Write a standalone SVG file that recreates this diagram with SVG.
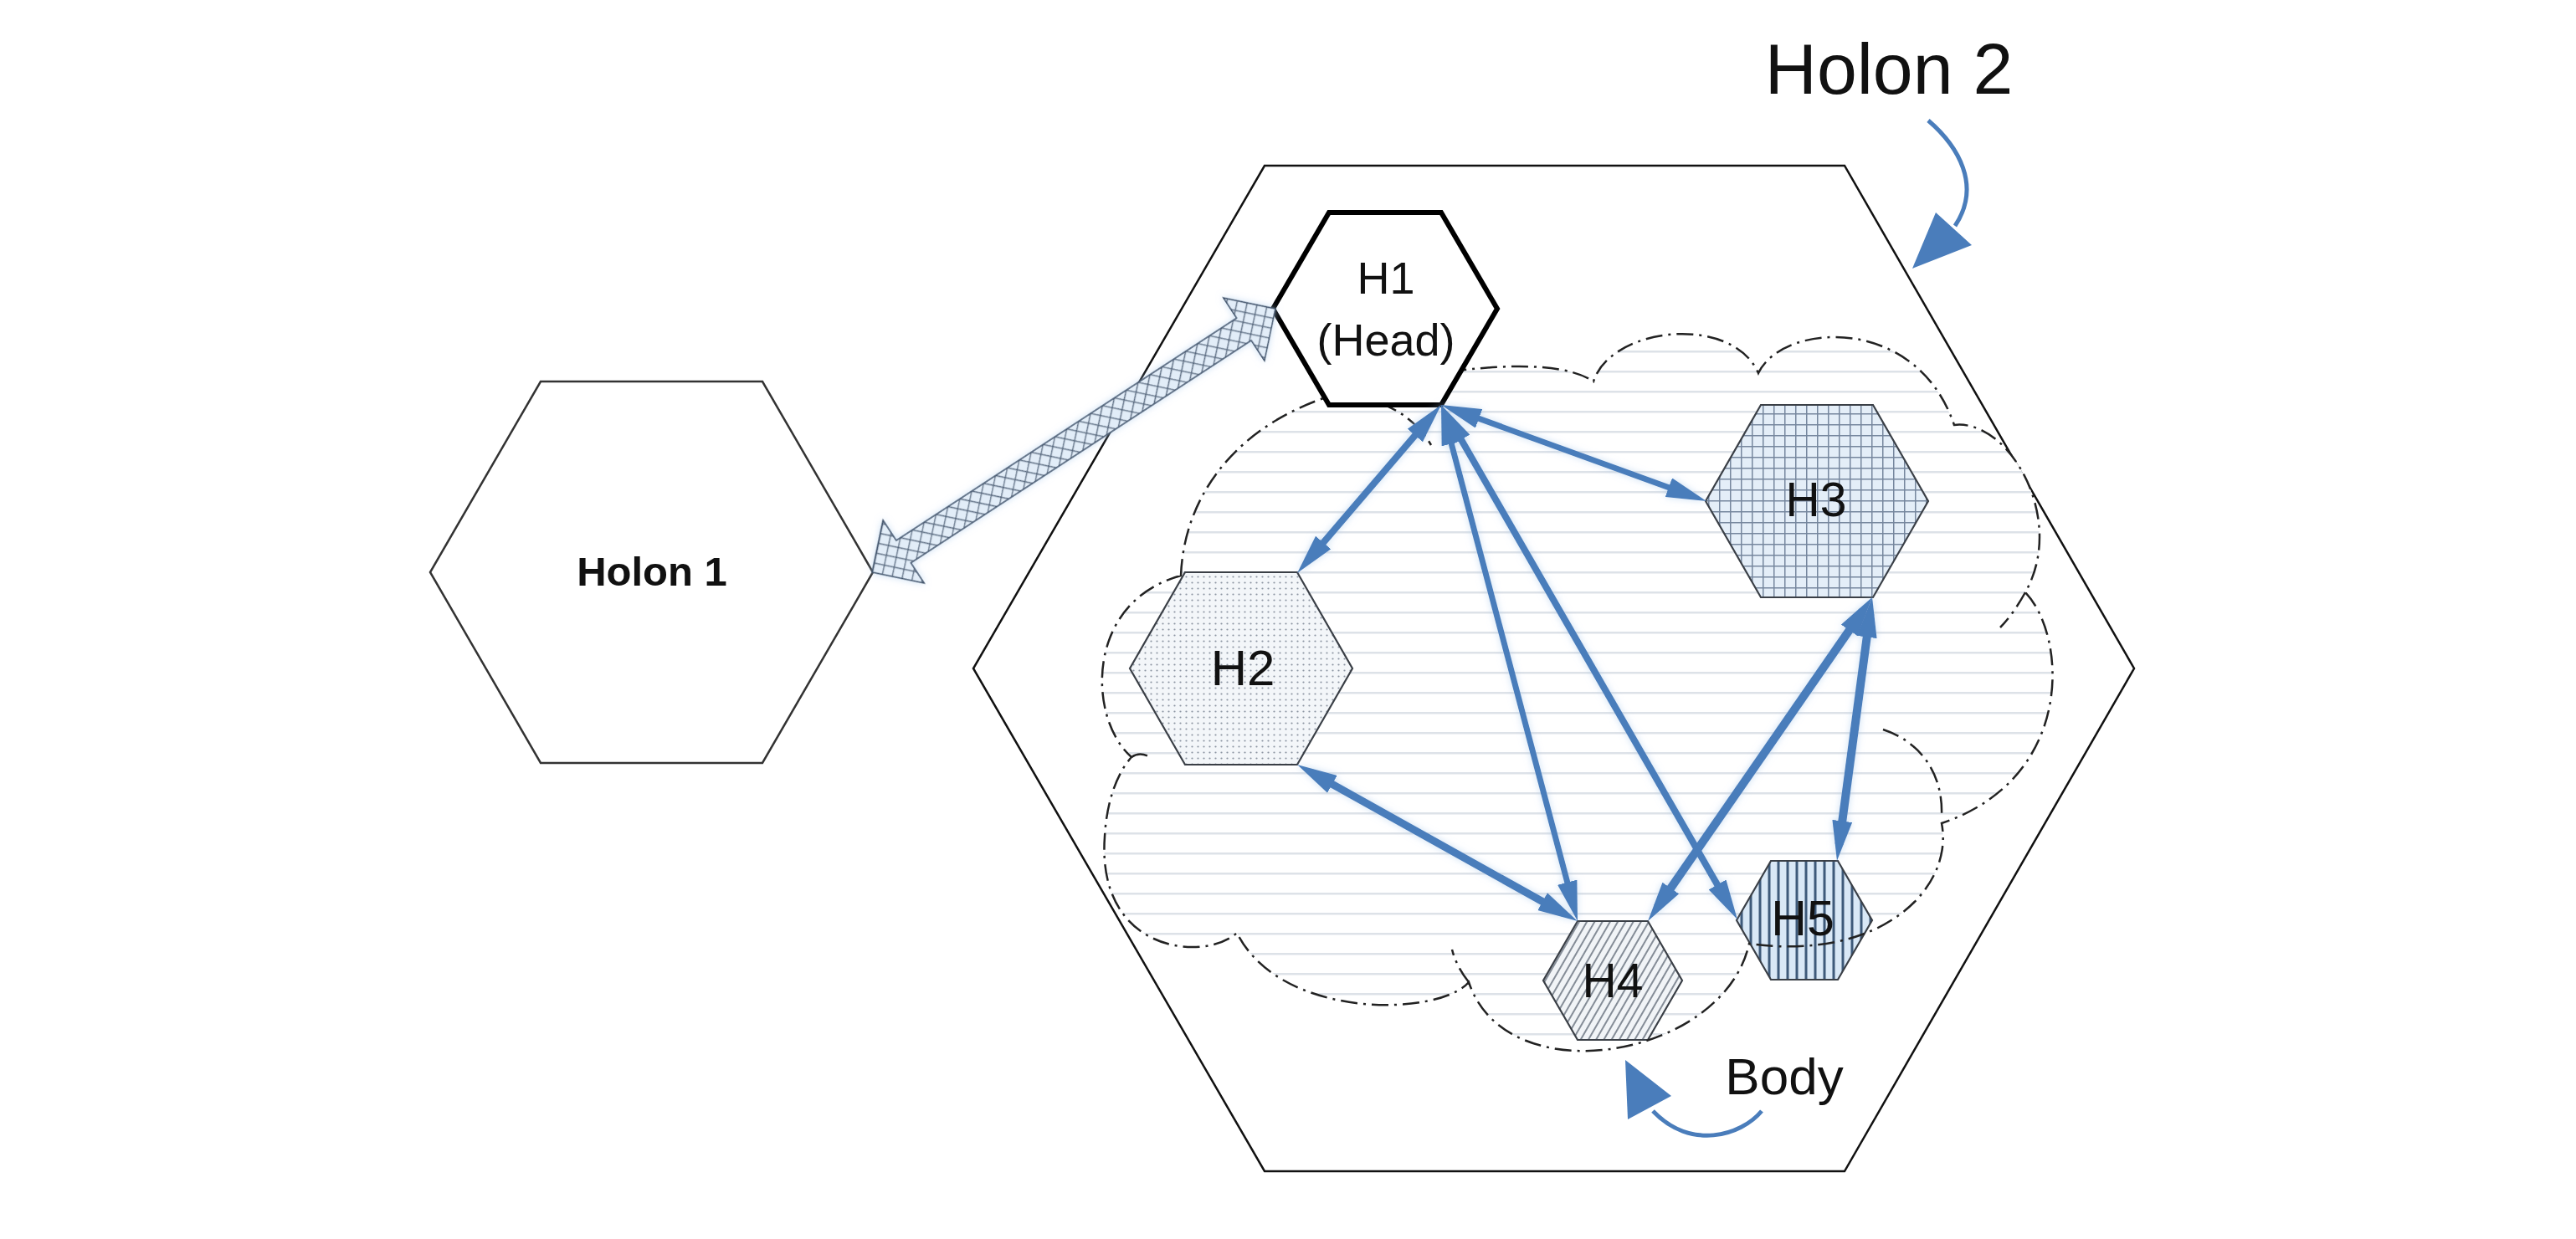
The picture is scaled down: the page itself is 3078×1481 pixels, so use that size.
<svg xmlns="http://www.w3.org/2000/svg" width="3078" height="1481" viewBox="0 0 3078 1481">
<style>
.txt{font-family:"Liberation Sans",Arial,sans-serif;fill:#111;text-anchor:middle}
.hex{stroke:#3a3f46;stroke-width:2.2;stroke-linejoin:miter}
.conn{fill:none;stroke:#4a7dbb;marker-start:url(#ah);marker-end:url(#ah)}
.cloud{fill:none;stroke:#222;stroke-width:2.5;stroke-dasharray:20 7 3 7}
.curl{fill:none;stroke:#4a7dbb;stroke-width:5}
</style>
<defs>
<pattern id="hlines" patternUnits="userSpaceOnUse" width="40" height="24"><rect width="40" height="24" fill="#ffffff"/><rect y="11" width="40" height="2.5" fill="#dde2e8"/></pattern>
<pattern id="dots" patternUnits="userSpaceOnUse" width="7" height="7"><rect width="7" height="7" fill="#f3f6f9"/><circle cx="3.5" cy="3.5" r="1.1" fill="#8d96a3"/></pattern>
<pattern id="grid" patternUnits="userSpaceOnUse" width="13" height="13"><rect width="13" height="13" fill="#e4eef8"/><path d="M0 0.75H13M0.75 0V13" stroke="#76879e" stroke-width="1.5"/></pattern>
<pattern id="diag" patternUnits="userSpaceOnUse" width="8" height="8" patternTransform="rotate(30)"><rect width="8" height="8" fill="#f1f4f7"/><path d="M1 0V8" stroke="#4a5563" stroke-width="1.3"/></pattern>
<pattern id="vstripe" patternUnits="userSpaceOnUse" width="11" height="11"><rect width="11" height="11" fill="#d9e8f6"/><path d="M2 0V11" stroke="#3e5a7a" stroke-width="3"/></pattern>
<pattern id="xhatch" patternUnits="userSpaceOnUse" width="12" height="12" patternTransform="rotate(45)"><rect width="12" height="12" fill="#e2edf8"/><path d="M0 0.6H12M0.6 0V12" stroke="#4d5e74" stroke-width="1.2"/></pattern>
<marker id="ah" markerUnits="userSpaceOnUse" viewBox="0 0 48 24" markerWidth="48" markerHeight="24" refX="28" refY="12" orient="auto-start-reverse"><path d="M0,0 L48,12 L0,24 z" fill="#4a7dbb"/></marker>
<filter id="glow" x="-10%" y="-10%" width="120%" height="120%"><feGaussianBlur in="SourceAlpha" stdDeviation="4" result="b"/><feFlood flood-color="#a9caec" flood-opacity="0.6"/><feComposite in2="b" operator="in"/><feMerge><feMergeNode/><feMergeNode in="SourceGraphic"/></feMerge></filter>
</defs>
<rect width="3078" height="1481" fill="#ffffff"/>

<g id="holon2">
<polygon points="1511,198 2204,198 2550,799 2204,1400 1511,1400 1163,799" fill="#ffffff" stroke="#111" stroke-width="2.5"/>
<text class="txt" x="2257" y="112" font-size="86">Holon 2</text>
<path class="curl" d="M2304,144 C2340,175 2368,222 2336,270"/>
<polygon points="2285,321 2313,254 2356,293" fill="#4a7dbb"/>
</g>

<g id="body">
<path d="M1411,688 C1415,590 1480,505 1600,470 C1700,445 1850,420 1904,456 C1925,390 2070,375 2101,446 C2130,385 2290,375 2335,508 C2400,500 2470,620 2420,708 C2470,760 2480,930 2320,984 C2335,1060 2250,1150 2090,1128 C2060,1265 1800,1310 1755,1174 C1720,1215 1530,1220 1478,1115 C1440,1150 1310,1140 1320,1000 C1322,960 1334,925 1352,905 C1300,860 1295,720 1411,688 Z" fill="url(#hlines)"/>
</g>

<g id="holon1">
<polygon points="646,456 911,456 1043,684 911,912 646,912 514,684" fill="#ffffff" stroke="#333" stroke-width="2.5"/>
<text class="txt" x="779" y="700" font-size="49" font-weight="bold">Holon 1</text>
</g>

<g id="h2">
<polygon class="hex" points="1416,684 1550,684 1616,799 1550,914 1416,914 1350,799" fill="url(#dots)"/>
<text class="txt" x="1485" y="819" font-size="60">H2</text>
</g>
<g id="h3">
<polygon class="hex" points="2104,484 2238,484 2304,599 2238,714 2104,714 2038,599" fill="url(#grid)"/>
<text class="txt" x="2170" y="617" font-size="57">H3</text>
</g>
<g id="h4">
<polygon class="hex" points="1885,1101 1969,1101 2010,1172 1969,1243 1885,1243 1844,1172" fill="url(#diag)"/>
<text class="txt" x="1927" y="1192" font-size="57">H4</text>
</g>
<g id="h5">
<polygon class="hex" points="2116,1029 2196,1029 2237,1100 2196,1171 2116,1171 2075,1100" fill="url(#vstripe)"/>
<text class="txt" x="2154" y="1118" font-size="59">H5</text>
</g>

<g id="body-outline">
<path class="cloud" d="M1411,688 C1415,590 1480,505 1600,470 C1700,445 1850,420 1904,456 C1925,390 2070,375 2101,446 C2130,385 2290,375 2335,508 C2400,500 2470,620 2420,708 C2470,760 2480,930 2320,984 C2335,1060 2250,1150 2090,1128 C2060,1265 1800,1310 1755,1174 C1720,1215 1530,1220 1478,1115 C1440,1150 1310,1140 1320,1000 C1322,960 1334,925 1352,905 C1300,860 1295,720 1411,688 Z"/>
<path class="cloud" d="M2420,708 Q2405,735 2390,750 M2250,872 C2290,885 2322,920 2320,975 M1755,1174 Q1740,1155 1735,1135 M1352,905 Q1362,898 1374,905 M1650,482 Q1690,498 1710,532"/>
<text class="txt" x="2132" y="1308" font-size="62">Body</text>
<path class="curl" d="M2105,1328 C2080,1358 2020,1375 1975,1328"/>
<polygon points="1942,1267 1945,1338 1997,1310" fill="#4a7dbb"/>
</g>

<g id="h1">
<polygon points="1588,254 1722,254 1789,369 1722,484 1588,484 1521,369" fill="#ffffff" stroke="#000" stroke-width="6" stroke-linejoin="miter"/>
<text class="txt" x="1656" y="351" font-size="54">H1</text>
<text class="txt" x="1656" y="425" font-size="54">(Head)</text>
</g>

<g id="connectors" filter="url(#glow)">
<line class="conn" x1="1709" y1="499.2" x2="1563" y2="669.8" stroke-width="8"/>
<line class="conn" x1="1740.8" y1="490.8" x2="2020.2" y2="592.2" stroke-width="7"/>
<line class="conn" x1="1727.1" y1="503.3" x2="1879.9" y2="1081.7" stroke-width="7"/>
<line class="conn" x1="1732" y1="501.3" x2="2066" y2="1081.7" stroke-width="8"/>
<line class="conn" x1="1567.5" y1="923.7" x2="1867.5" y2="1091.3" stroke-width="9"/>
<line class="conn" x1="1980.4" y1="1084.6" x2="2225.6" y2="730.4" stroke-width="10"/>
<line class="conn" x1="2234.4" y1="733.8" x2="2197.6" y2="1009.2" stroke-width="10"/>
<polygon transform="translate(1042,684) rotate(-33.17)" points="0,0 45,-45 45,-16 530.8,-16 530.8,-45 575.8,0 530.8,45 530.8,16 45,16 45,45" fill="url(#xhatch)" stroke="#3c4e66" stroke-width="1.5"/>
</g>
</svg>
